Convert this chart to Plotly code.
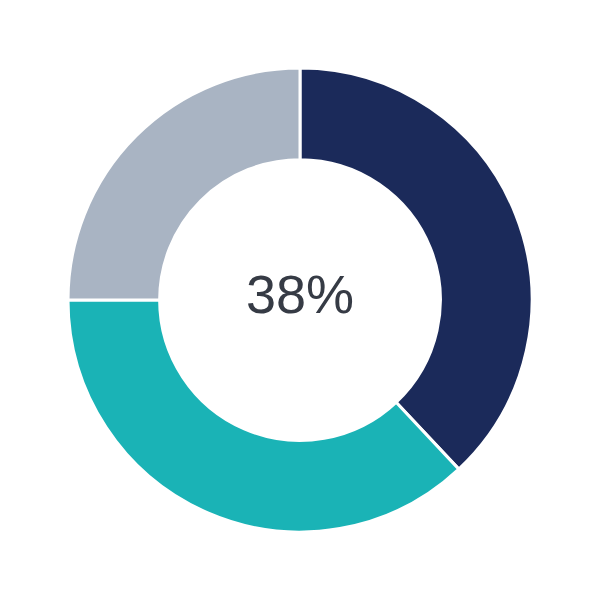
import plotly.graph_objects as go

labels = ["Segment A", "Segment B", "Segment C"]
values = [38, 37, 25]
colors = ["#1b2a5a", "#1ab3b6", "#a9b4c3"]
center_text = "38%"

fig = go.Figure(go.Pie(
    labels=labels,
    values=values,
    hole=0.605,
    sort=False,
    direction="clockwise",
    rotation=0,
    marker=dict(colors=colors, line=dict(color="white", width=3)),
    textinfo="none",
    hoverinfo="label+percent",
    showlegend=False,
))

fig.add_annotation(
    text=center_text, x=0.5, y=0.5, xref="paper", yref="paper", yshift=6,
    showarrow=False, font=dict(family="Liberation Sans, Arial, sans-serif", size=54, color="#363b45"),
)

fig.update_layout(
    width=600, height=600,
    margin=dict(l=60, r=76, t=60, b=76),
    paper_bgcolor="white", plot_bgcolor="white",
)

fig.write_html("out.html")
